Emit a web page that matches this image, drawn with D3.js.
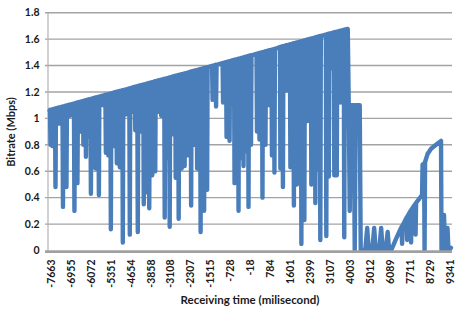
<!DOCTYPE html>
<html>
<head>
<meta charset="utf-8">
<script src="https://cdn.jsdelivr.net/npm/d3@7"></script>
<style>
  html, body { margin: 0; padding: 0; background: #ffffff; }
  svg { display: block; }
  text { font-family: "Lato", "Liberation Sans", sans-serif; font-weight: bold; fill: #1a1a1a; }
</style>
</head>
<body>
<svg id="chart" width="474" height="325"></svg>
<script>
// Receiving-time labels shown on the category axis (one every 20 samples)
const timeLabels = ['-7663','-6955','-6072','-5351','-4654','-3858','-3108','-2307','-1515','-728',
                    '-18','784','1601','2399','3107','4003','5012','6089','7711','8729','9341'];

// Bitrate axis ticks (Mbps)
const rateTicks = [0, 0.2, 0.4, 0.6, 0.8, 1, 1.2, 1.4, 1.6, 1.8];
const rateTickLabels = ['0','0.2','0.4','0.6','0.8','1','1.2','1.4','1.6','1.8'];

// Ramp phase: where the bitrate collapses (sample index), how low it falls,
// and the bitrate it is climbing along just before the collapse
const dropSample = [
  1, 3, 6, 9.5, 13.5, 17, 20.5, 25, 28, 31, 34, 36.5, 39, 41.5, 44, 46.5, 49.5, 53.5, 56.5, 59,
  61.5, 64.5, 67.5, 70.5, 73.5, 76.5, 80.5, 83.5, 86, 88.5, 91.5, 94.5, 97, 100, 103, 106, 109, 112,
  115.5, 118, 120.5, 123.5, 126.5, 129.5, 132.5, 135.5, 138.5, 142, 145, 148, 151.5, 155, 158,
  163.5, 167, 174, 177.5, 180.5, 185.5, 189.5, 192, 194.5, 197, 199.5, 202, 208, 210.5, 213.5,
  216.5, 220.5, 223, 225.5, 231.5, 234, 237.5, 241.5, 245, 248, 250.5, 252.5, 255.5, 258.5,
  262.5, 266.5, 269, 271.5, 277.5, 280, 282.5, 285.5, 288, 291.5, 295.5
];
const dropFloor = [
  0.80, 0.79, 0.48, 0.96, 0.33, 0.48, 1.02, 0.30, 0.51, 0.90, 0.80, 0.71, 0.86, 0.43, 0.63, 0.62, 0.42, 1.10, 0.74, 0.72,
  0.16, 0.79, 0.66, 0.63, 0.06, 1.03, 0.12, 1.05, 0.91, 0.14, 0.90, 0.35, 0.44, 0.32, 0.57, 0.60, 1.05, 1.02,
  0.25, 0.70, 0.18, 0.88, 0.55, 0.24, 0.62, 0.64, 0.72, 0.34, 0.80, 0.62, 0.14, 0.30, 0.46,
  1.14, 1.09, 1.12, 0.86, 0.83, 0.51, 0.30, 0.70, 0.64, 0.75, 0.33, 0.80, 0.90, 0.84, 0.40,
  0.80, 1.10, 0.72, 0.59, 0.62, 0.48, 1.21, 0.63, 0.34, 0.50, 0.60, 0.05, 0.23, 0.98,
  0.50, 0.36, 0.61, 0.08, 0.11, 0.56, 1.38, 0.57, 0.57, 1.12, 0.10
];
const dropCrest = [
  1.064, 1.068, 1.074, 1.082, 1.090, 1.097, 1.104, 1.113, 1.120, 1.126, 1.132, 1.137, 1.142, 1.147, 1.152, 1.158, 1.164, 1.172, 1.178, 1.183,
  1.188, 1.195, 1.201, 1.207, 1.213, 1.219, 1.227, 1.234, 1.239, 1.244, 1.250, 1.256, 1.261, 1.267, 1.274, 1.280, 1.286, 1.292,
  1.299, 1.304, 1.309, 1.316, 1.322, 1.328, 1.334, 1.340, 1.346, 1.354, 1.360, 1.366, 1.373, 1.380, 1.386,
  1.398, 1.405, 1.419, 1.427, 1.433, 1.443, 1.451, 1.456, 1.461, 1.467, 1.472, 1.477, 1.489, 1.494, 1.500,
  1.507, 1.515, 1.520, 1.525, 1.541, 1.546, 1.553, 1.561, 1.568, 1.574, 1.579, 1.583, 1.590, 1.596,
  1.604, 1.612, 1.618, 1.623, 1.635, 1.640, 1.645, 1.651, 1.656, 1.663, 1.671
];
const rampStart = { sample: 0, rate: 1.059 };

// After the ramp: plateau, outage, and the second slow restart
const tailSample = [
  299, 300, 301, 302, 305, 306, 307, 311, 312,
  316.5, 318.5, 320, 323.5, 325.5, 327, 330.5, 332.5, 334, 337, 339, 340.5, 342.5,
  347.5, 353, 353.5, 354, 358, 358.5, 359, 362, 362.5, 363, 366.5, 367, 367.5, 373.5,
  374, 375.5, 376, 376.5, 379, 382.5, 387.5, 392.5, 393, 394.5, 395.5, 396.5, 398, 399, 400, 402.5
];
const tailRate = [
  1.677, 1.10, 0.30, 1.10, 1.10, 0.00, 1.10, 1.10, 0.00,
  0.00, 0.17, 0.00, 0.00, 0.17, 0.00, 0.00, 0.17, 0.00, 0.00, 0.14, 0.00, 0.00,
  0.09, 0.18, 0.05, 0.19, 0.25, 0.08, 0.26, 0.30, 0.06, 0.31, 0.35, 0.12, 0.36, 0.42,
  0.65, 0.66, 0.00, 0.67, 0.73, 0.77, 0.80, 0.83, 0.00, 0.00, 0.27, 0.00, 0.00, 0.17, 0.00, 0.02
];

// ---- layout ----
const svg = d3.select('#chart');
const plot = { left: 48, right: 452, top: 12.7, bottom: 250.5 };

const x = d3.scaleLinear().domain([0, 400]).range([49.5, 448.5]);
const y = d3.scaleLinear().domain([0, 1.8]).range([plot.bottom, plot.top]);

// horizontal gridlines (start a little left of the axis, acting as tick marks)
svg.append('g')
  .selectAll('line')
  .data(rateTicks.filter(t => t > 0))
  .join('line')
  .attr('x1', plot.left - 3).attr('x2', plot.right)
  .attr('y1', d => y(d)).attr('y2', d => y(d))
  .attr('stroke', '#a3a3a3').attr('stroke-width', 1.4);

// vertical axis line
svg.append('line')
  .attr('x1', plot.left).attr('x2', plot.left)
  .attr('y1', plot.top).attr('y2', plot.bottom)
  .attr('stroke', '#b3b3b3').attr('stroke-width', 1.2);

// y tick labels
svg.append('g')
  .selectAll('text')
  .data(rateTicks)
  .join('text')
  .attr('x', 39.5)
  .attr('y', d => y(d))
  .attr('dy', '0.36em')
  .attr('text-anchor', 'end')
  .attr('font-size', 10.5)
  .text((d, i) => rateTickLabels[i]);

// build the trace
const trace = [{ i: rampStart.sample, v: rampStart.rate }];
dropSample.forEach((s, k) => {
  trace.push({ i: s - 0.5, v: dropCrest[k] });
  trace.push({ i: s, v: dropFloor[k] });
  trace.push({ i: s + 0.5, v: dropCrest[k] });
});
tailSample.forEach((s, k) => trace.push({ i: s, v: tailRate[k] }));

const line = d3.line().x(d => x(d.i)).y(d => y(d.v));

svg.append('path')
  .datum(trace)
  .attr('d', line)
  .attr('fill', 'none')
  .attr('stroke', '#4a7ebb')
  .attr('stroke-width', 4.4)
  .attr('stroke-linejoin', 'round')
  .attr('stroke-linecap', 'round');

// horizontal (category) axis line
svg.append('line')
  .attr('x1', plot.left - 3).attr('x2', plot.right)
  .attr('y1', 251.6).attr('y2', 251.6)
  .attr('stroke', '#a0a0a0').attr('stroke-width', 2.6);

// x tick labels, rotated
svg.append('g')
  .selectAll('text')
  .data(timeLabels)
  .join('text')
  .attr('transform', (d, k) => `translate(${x(k * 20) + 1.5},259.5) rotate(-90)`)
  .attr('dy', '0.36em')
  .attr('text-anchor', 'end')
  .attr('font-size', 10.5)
  .text(d => d);

// axis titles
svg.append('text')
  .attr('x', 250).attr('y', 303.5)
  .attr('text-anchor', 'middle')
  .attr('font-size', 11.5)
  .text('Receiving time (milisecond)');

svg.append('text')
  .attr('transform', 'translate(15,132) rotate(-90)')
  .attr('text-anchor', 'middle')
  .attr('font-size', 11)
  .text('Bitrate (Mbps)');
</script>
</body>
</html>
